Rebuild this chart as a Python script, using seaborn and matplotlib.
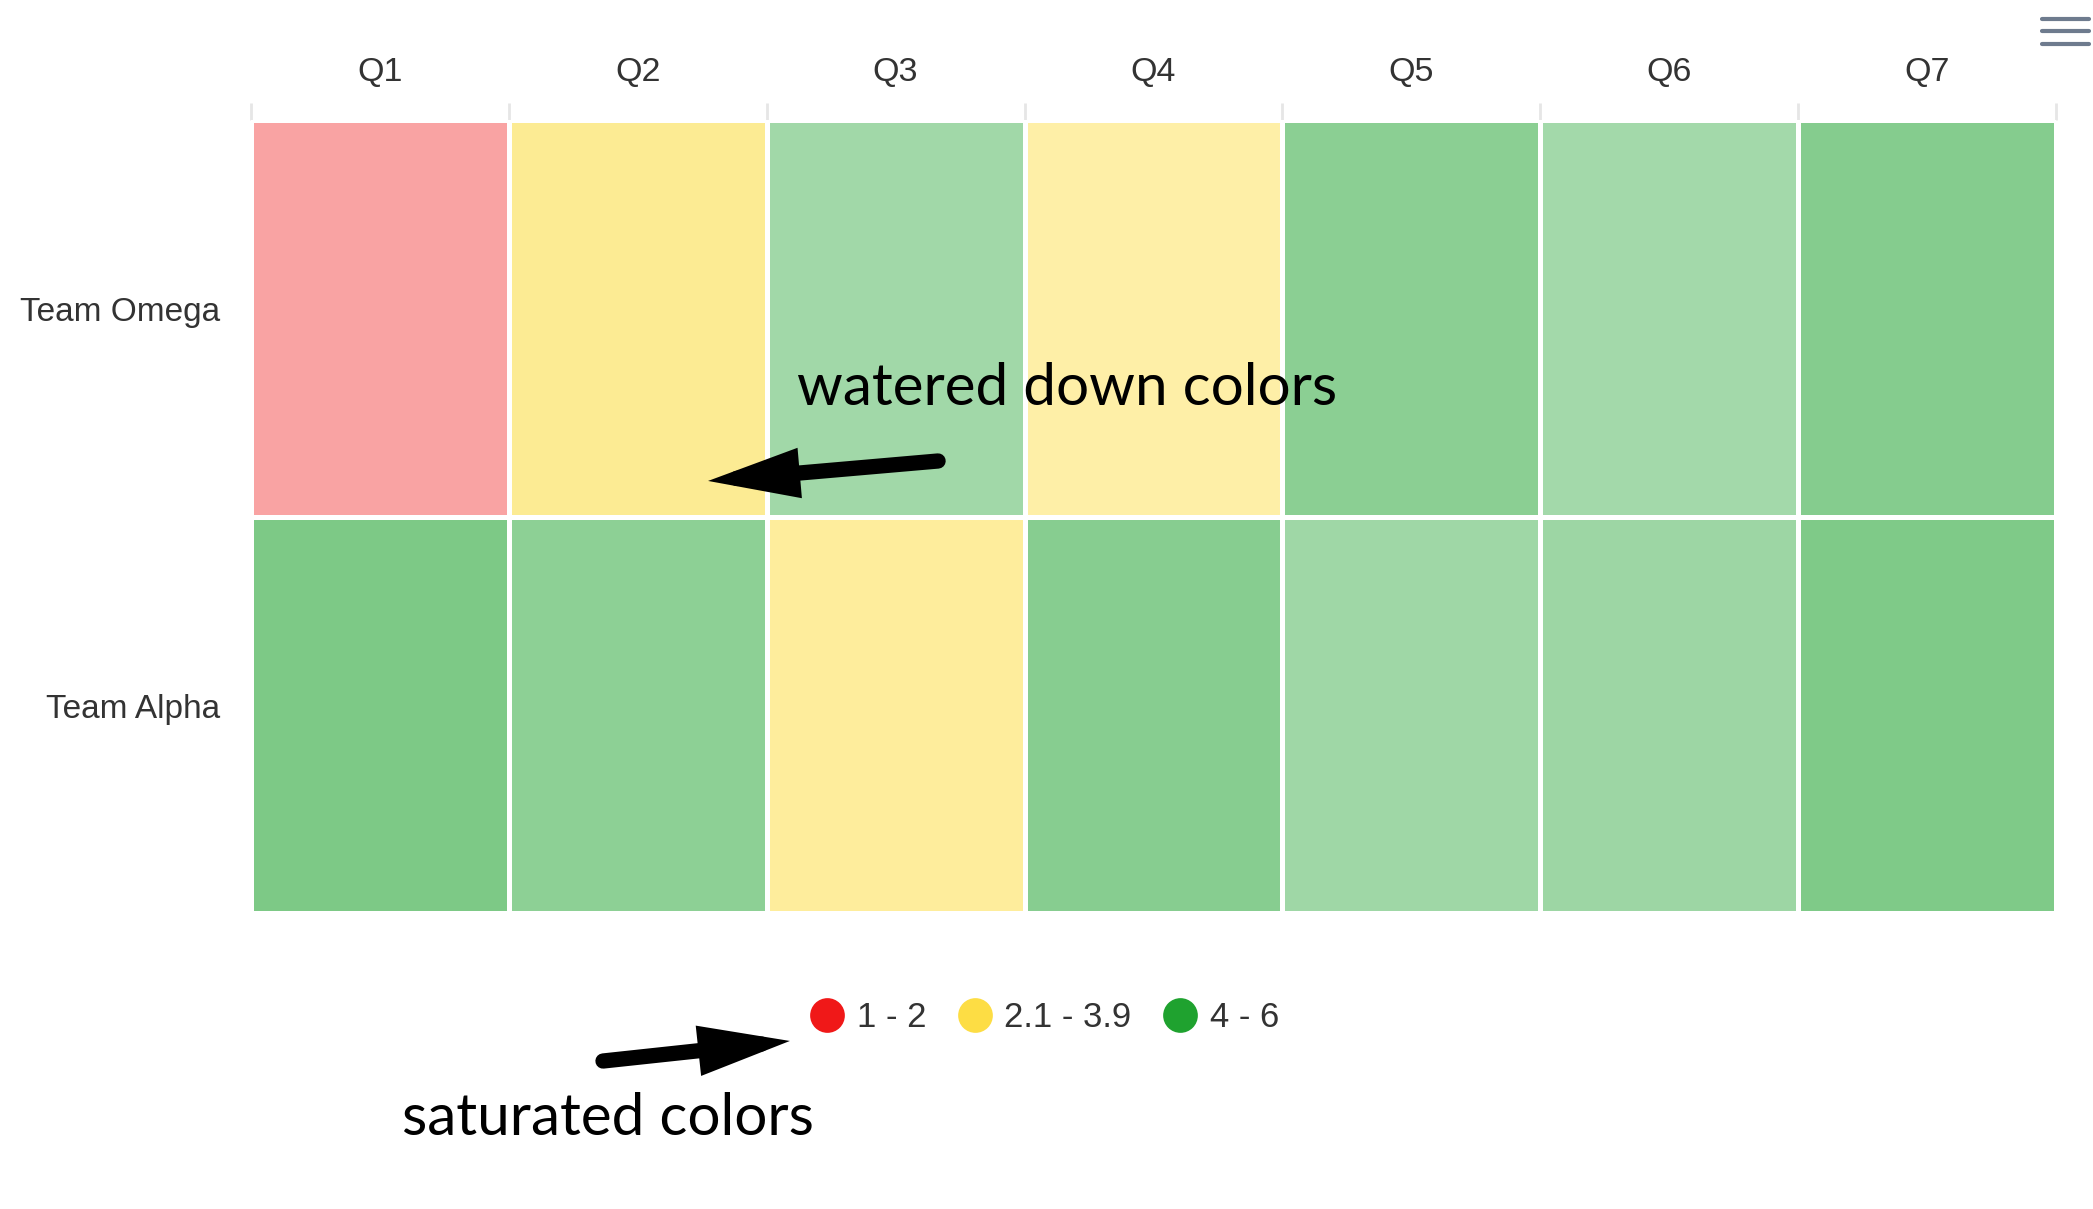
import numpy as np
import pandas as pd
import matplotlib
matplotlib.use('Agg')
import matplotlib.pyplot as plt
import matplotlib.transforms as mtrans
from matplotlib.colors import LinearSegmentedColormap, to_rgb
from matplotlib.lines import Line2D
from matplotlib.patches import FancyArrowPatch
import seaborn as sns

#
# Data
#

quarters = ['Q1', 'Q2', 'Q3', 'Q4', 'Q5', 'Q6', 'Q7']
teams = ['Team Omega', 'Team Alpha']
omega_scores = [1.0, 3.9, 4.2, 2.8, 5.3, 4.1, 5.6]
alpha_scores = [6.0, 5.2, 3.4, 5.5, 4.3, 4.4, 5.9]

class_labels = ['1 - 2', '2.1 - 3.9', '4 - 6']
class_lows = [1.0, 2.1, 4.0]
class_highs = [2.0, 3.9, 6.0]
class_colors = ['#F01818', '#FDDD44', '#1FA22F']

vmin, vmax = 1.0, 6.0

df = pd.DataFrame([omega_scores, alpha_scores], index=teams, columns=quarters)

#
# colour scale: saturated class colours, washed out with white
#

def wash(color, a):
    c = np.array(to_rgb(color))
    return tuple(1 - a * (1 - c))

nodes = []
for lo, hi, col in zip(class_lows, class_highs, class_colors):
    nodes.append(((lo - vmin) / (vmax - vmin), wash(col, 0.4)))
    nodes.append(((hi - vmin) / (vmax - vmin), wash(col, 0.58)))
cmap = LinearSegmentedColormap.from_list('washed', nodes)

#
# Plot
#

sns.set_theme(style='white')
plt.rcParams['font.family'] = ['Liberation Sans', 'DejaVu Sans']

fig = plt.figure(figsize=(20.93, 12.09), dpi=100)
ax = fig.add_axes([0.1199, 0.2448, 0.8624, 0.6559])

sns.heatmap(df, cmap=cmap, vmin=vmin, vmax=vmax, cbar=False,
            linewidths=2.2, linecolor='white', ax=ax)

ax.xaxis.tick_top()
ax.tick_params(axis='x', which='major', length=0, pad=23, labelsize=24.5,
               labelcolor='#333333')
ax.tick_params(axis='y', which='major', length=0, pad=22, labelsize=24,
               labelcolor='#333333', rotation=0)
ax.set_xticks(np.arange(len(quarters) + 1), minor=True)
ax.tick_params(axis='x', which='minor', top=True, bottom=False, length=12,
               width=2, color='#e6e6e6', direction='out')
ax.set_xlabel('')
ax.set_ylabel('')
for s in ax.spines.values():
    s.set_visible(False)

# nudge row labels up a little
shift = mtrans.ScaledTranslation(0, 4 / 72, fig.dpi_scale_trans)
for lab in ax.get_yticklabels():
    lab.set_transform(lab.get_transform() + shift)

# legend with saturated colours
handles = [Line2D([], [], marker='o', linestyle='', markersize=25,
                  markerfacecolor=c, markeredgewidth=0) for c in class_colors]
fig.legend(handles, class_labels, loc='center', bbox_to_anchor=(0.499, 0.158),
           ncol=3, frameon=False, fontsize=25, handlelength=1.0,
           handletextpad=0.35, columnspacing=0.9, labelcolor='#333333')

# annotations
ann_font = ['Lato', 'DejaVu Sans']
fig.text(0.381, 0.665, 'watered down colors', fontsize=42, family=ann_font,
         ha='left', va='baseline', color='black')
fig.text(0.192, 0.0612, 'saturated colors', fontsize=42, family=ann_font,
         ha='left', va='baseline', color='black')

arrow_kw = dict(transform=fig.transFigure, arrowstyle='-|>,head_length=40,head_width=11',
                mutation_scale=1, linewidth=11, color='black', capstyle='round',
                joinstyle='miter', shrinkA=0, shrinkB=0)
fig.add_artist(FancyArrowPatch((0.4482, 0.6187), (0.3383, 0.6022), **arrow_kw))
fig.add_artist(FancyArrowPatch((0.2881, 0.1224), (0.3774, 0.1390), **arrow_kw))

# menu icon
for yy in [19, 31, 44]:
    fig.add_artist(Line2D([2042 / 2093, 2089 / 2093], [1 - yy / 1209, 1 - yy / 1209],
                          transform=fig.transFigure, color='#6e7b8e', linewidth=3))

plt.savefig('out.png', dpi=100)
